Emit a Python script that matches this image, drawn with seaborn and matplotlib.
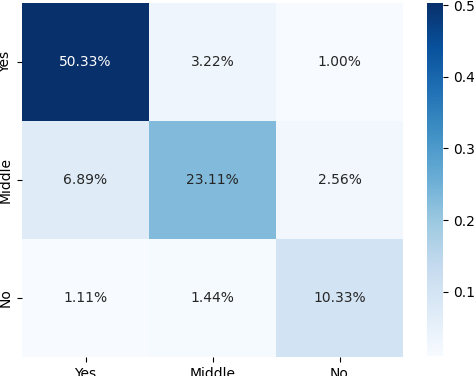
import numpy as np
import pandas as pd
import seaborn as sns
import matplotlib
matplotlib.use("Agg")
import matplotlib.pyplot as plt

labels = ["Yes", "Middle", "No"]
row_yes = [0.5033, 0.0322, 0.0100]
row_middle = [0.0689, 0.2311, 0.0256]
row_no = [0.0111, 0.0144, 0.1033]

df = pd.DataFrame([row_yes, row_middle, row_no], index=labels, columns=labels)

W, H = 474, 376
fig = plt.figure(figsize=(W / 100, H / 100), dpi=100)
ax = fig.add_axes([22 / W, (H - 357) / H, (403 - 22) / W, (357 - 3) / H])
cax = fig.add_axes([427 / W, (H - 356) / H, 16 / W, (356 - 3) / H])

sns.heatmap(df, annot=True, fmt=".2%", cmap="Blues", ax=ax, cbar_ax=cax,
            annot_kws={"fontsize": 10})
ax.set_yticklabels(labels, rotation=90, va="center", fontsize=10)
ax.set_xticklabels(labels, rotation=0, fontsize=10)
cax.tick_params(labelsize=10)
cax.set_yticks([0.1, 0.2, 0.3, 0.4, 0.5])

fig.savefig("out.png", dpi=100)
